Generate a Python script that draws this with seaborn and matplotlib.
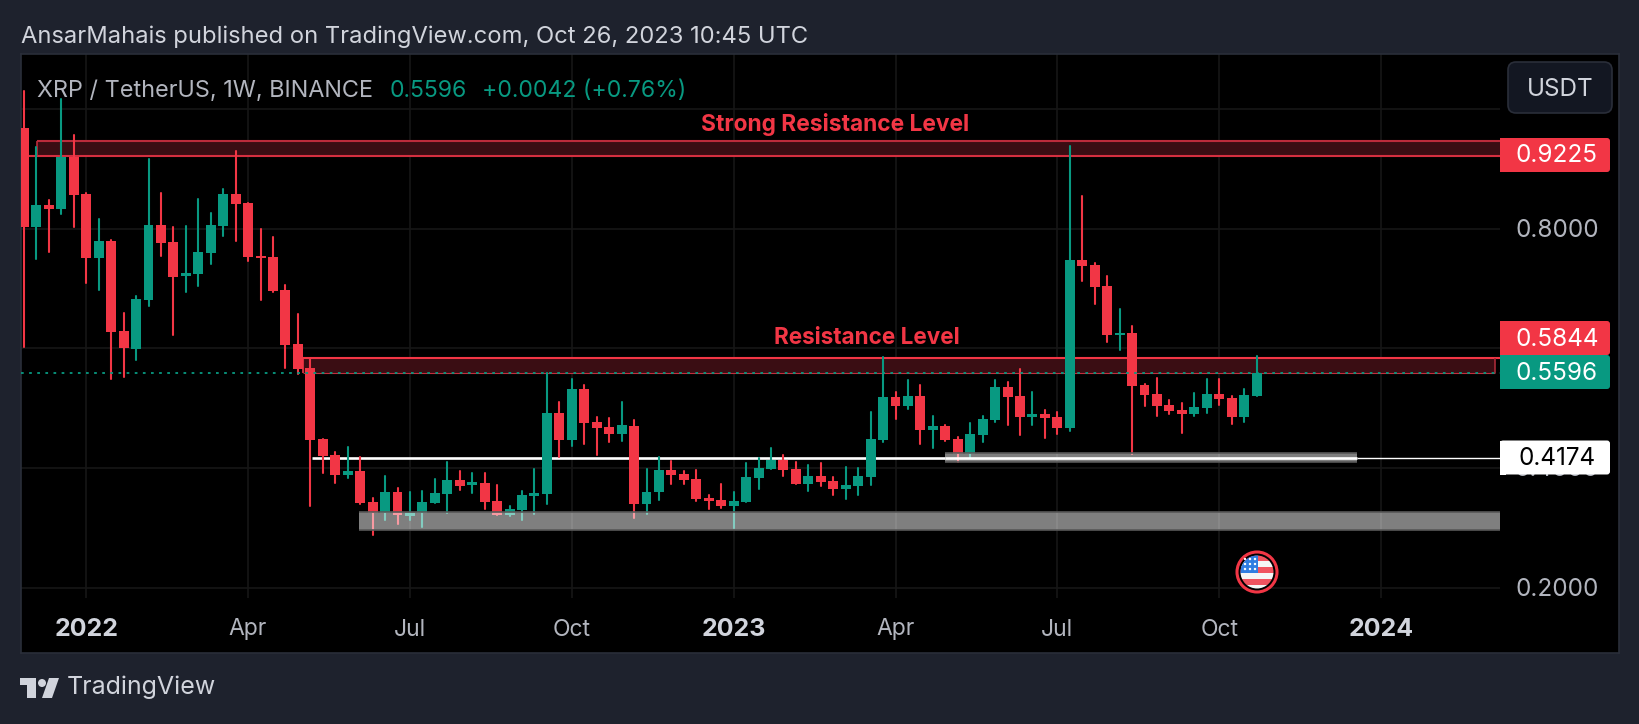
#!/usr/bin/env python3
# -*- coding: utf-8 -*-
import numpy as np
import pandas as pd
import matplotlib
matplotlib.use("Agg")
import matplotlib.pyplot as plt
import seaborn as sns
from matplotlib.patches import Circle, FancyBboxPatch, Polygon, Rectangle

# Weekly candles, XRP/USDT, first week = Nov 29 2021
opens = [
    .9680, .8036, .8398, .8337, .9201, .8577, .7518, .7791, .6291, .5996,
    .6815, .8064, .7774, .7217, .7250, .7601, .8053, .8577, .8426, .7540,
    .7523, .6971, .6068, .5667, .4480, .4212, .3889, .3945, .3426, .3242,
    .3593, .3203, .3247, .3420, .3570, .3799, .3721, .3743, .3442, .3219,
    .3303, .3537, .3570, .4914, .4473, .5315, .4763, .4680, .4574, .4696,
    .3403, .3604, .3966, .3894, .3810, .3498, .3459, .3370, .3437, .3838,
    .3983, .4128, .3977, .3732, .3866, .3777, .3654, .3704, .3855, .4468,
    .5181, .5037, .5204, .4641, .4697, .4485, .4234, .4557, .4797, .5354,
    .5204, .4858, .4903, .4847, .4674, .7478, .7395, .7043, .6230, .6257,
    .5388, .5232, .5053, .4970, .4903, .5003, .5237, .5170, .4853, .5204,
]
closes = [
    .8036, .8398, .8337, .9201, .8571, .7518, .7791, .6280, .6013, .6826,
    .8064, .7768, .7200, .7256, .7612, .8058, .8577, .8421, .7529, .7518,
    .6960, .6057, .5656, .4474, .4201, .3889, .3945, .3415, .3242, .3593,
    .3209, .3254, .3425, .3576, .3799, .3699, .3760, .3437, .3219, .3308,
    .3543, .3576, .4914, .4473, .5315, .4758, .4674, .4574, .4713, .3403,
    .3604, .3961, .3888, .3804, .3481, .3453, .3364, .3442, .3844, .3994,
    .4128, .3972, .3732, .3866, .3765, .3654, .3710, .3866, .4479, .5181,
    .5042, .5204, .4641, .4697, .4468, .4234, .4569, .4819, .5354, .5187,
    .4858, .4903, .4842, .4674, .7478, .7378, .7032, .6224, .6263, .5377,
    .5221, .5037, .4953, .4903, .5020, .5237, .5159, .4853, .5221, .5596,
]
highs = [
    1.0305, .9363, .8482, 1.0165, .9569, .8593, .8159, .7808, .6587, .6877,
    .9162, .8593, .8025, .8047, .8493, .8259, .8660, .9301, .8437, .7997,
    .7863, .7055, .6576, .5818, .4480, .4274, .4346, .4190, .3504, .3867,
    .3660, .3599, .3615, .3810, .4100, .3949, .3910, .3910, .3715, .3359,
    .3609, .3983, .5594, .5098, .5488, .5382, .4847, .4830, .5103, .4802,
    .3977, .4189, .4117, .3955, .3961, .3548, .3726, .3598, .4078, .4161,
    .4328, .4211, .4100, .4044, .4078, .3844, .4016, .4000, .4930, .5850,
    .5265, .5471, .5382, .4870, .4713, .4513, .4747, .4864, .5466, .5444,
    .5650, .5271, .4970, .4936, .9390, .8548, .7422, .7211, .6659, .6374,
    .5399, .5505, .5131, .5081, .5249, .5488, .5494, .5204, .5321, .5867,
]
lows = [
    .6018, .7495, .7618, .8253, .8036, .7100, .6977, .5494, .5528, .5812,
    .6715, .7551, .6230, .6949, .7049, .7417, .7886, .7796, .7467, .6815,
    .6949, .5678, .5572, .3371, .3922, .3755, .3839, .3404, .2886, .3137,
    .3070, .3137, .3019, .3420, .3253, .3637, .3587, .3314, .3219, .3203,
    .3124, .3225, .3403, .4178, .4373, .4401, .4223, .4440, .4457, .3169,
    .3225, .3464, .3732, .3738, .3448, .3314, .3336, .3002, .3437, .3648,
    .3977, .3866, .3726, .3615, .3699, .3548, .3487, .3548, .3715, .4440,
    .4819, .4992, .4407, .4340, .4457, .4106, .4167, .4440, .4769, .4719,
    .4552, .4719, .4502, .4569, .4624, .7127, .6742, .6107, .5973, .4234,
    .5037, .4870, .4903, .4585, .4870, .4920, .5048, .4736, .4769, .5204,
]

tick_weeks = [5, 18, 31, 44, 57, 70, 83, 96, 109]
tick_labels = ["2022", "Apr", "Jul", "Oct", "2023", "Apr", "Jul", "Oct", "2024"]
price_grid = [0.2, 0.4, 0.6, 0.8, 1.0]
# 0.6 and 1.0 are fully covered by the labels in the reference
price_ticks = [0.2, 0.4, 0.8]

strong_zone = (0.9225, 0.9473)
resistance_zone = (0.5596, 0.5844)
lower_band = (0.2963, 0.3264)
upper_band = (0.4106, 0.4246)
white_level = 0.4174
last_price = 0.5596

BG = "#1e222d"
BORDER = "#2a2e39"
RED = "#f23645"
GREEN = "#089981"
GRID = "#161616"
AXIS_TEXT = "#b2b5be"

sns.set_theme(style="dark")
plt.rcParams["font.family"] = ["Inter", "DejaVu Sans"]

df = pd.DataFrame({"week": np.arange(len(opens)), "open": opens, "close": closes,
                   "high": highs, "low": lows})
df["direction"] = np.where(df["close"] >= df["open"], "up", "down")
df["bottom"] = df[["open", "close"]].min(axis=1)
df["body"] = (df["open"] - df["close"]).abs()
palette = {"up": GREEN, "down": RED}

W, H = 1640, 724
fig = plt.figure(figsize=(W / 100, H / 100), dpi=100, facecolor=BG)

# Main panel, with the price scale inside it
L, T, R, B = 21, 54, 1619, 653
ax = fig.add_axes([L / W, 1 - B / H, (R - L) / W, (B - T) / H], facecolor="black")

# Wicks and bodies
wicks = df.melt(id_vars=["week", "direction"], value_vars=["high", "low"], value_name="price")
sns.lineplot(data=wicks, x="week", y="price", units="week", estimator=None, hue="direction",
             palette=palette, linewidth=1.5, legend=False, ax=ax, zorder=4)
for direction, sub in df.groupby("direction"):
    sns.barplot(data=sub, x="week", y="body", native_scale=True, color=palette[direction],
                saturation=1, width=0.8, linewidth=0, errorbar=None,
                bottom=sub["bottom"].to_numpy(), ax=ax, zorder=5)

x0 = (L - 24) / 12.45
x1 = (R - 24) / 12.45
x_scale_end = (1500 - 24) / 12.45
ax.set_xlim(x0, x1)
ax.set_ylim(0.0906, 1.0923)
ax.set_xticks([])
ax.set_yticks([])
ax.set_xlabel("")
ax.set_ylabel("")
ax.grid(False)
for spine in ax.spines.values():
    spine.set_color(BORDER)
    spine.set_linewidth(1.2)

# Grid stops short of the scales
ax.hlines(price_grid, x0, x_scale_end, color=GRID, lw=1.2, zorder=1)
ax.vlines(tick_weeks, 0.1826, 1.0923, color=GRID, lw=1.2, zorder=1)

# Drawings
ax.add_patch(Rectangle((1.02, strong_zone[0]), x_scale_end - 1.02, strong_zone[1] - strong_zone[0],
                       facecolor="#3a0d13", edgecolor="none", zorder=2))
ax.hlines(strong_zone[1], 1.02, x_scale_end, color="#bb2b3b", lw=1.5, zorder=3)
ax.hlines(strong_zone[0], 0.4, x_scale_end, color="#d42f40", lw=1.5, zorder=3)
ax.vlines(1.02, strong_zone[0], strong_zone[1], color="#bb2b3b", lw=1.2, zorder=3)

ax.add_patch(Rectangle((22.4, resistance_zone[0]), 118.15 - 22.4, resistance_zone[1] - resistance_zone[0],
                       facecolor="#3a0d13", edgecolor="none", zorder=2))
ax.hlines(resistance_zone[1], 22.4, x_scale_end, color=RED, lw=1.5, zorder=3)
ax.hlines(resistance_zone[0], 22.4, 118.15, color="#c42d3c", lw=0.8, zorder=3)
ax.vlines(118.15, resistance_zone[0], resistance_zone[1], color="#a82a38", lw=1.2, zorder=3)
ax.vlines(22.4, resistance_zone[0], resistance_zone[1], color=RED, lw=1.2, zorder=3)

ax.hlines(white_level, 23.1, 74.0, color="white", lw=1.9, zorder=3)
ax.hlines(white_level, 74.0, 107.07, color="white", lw=1.9, zorder=8)
ax.hlines(white_level, 107.07, x_scale_end, color="white", lw=1.0, zorder=3)
ax.hlines(last_price, x0, x_scale_end, color=GREEN, lw=1.3, linestyles=(0, (1.5, 3.0)), zorder=6)

for (lo, hi), left, right in [(lower_band, 26.9, x_scale_end), (upper_band, 74.0, 107.07)]:
    ax.add_patch(Rectangle((left, lo), right - left, hi - lo, facecolor="white", alpha=0.5,
                           edgecolor="none", zorder=7))
    ax.hlines([lo, hi], left, right, color="#585858", lw=1.2, zorder=7)

# Time scale
for week, label in zip(tick_weeks, tick_labels):
    is_year = label.isdigit()
    ax.text(week, (B - 629.5) / (B - T), label, transform=ax.get_xaxis_transform(),
            ha="center", va="center", fontsize=18 if is_year else 16.5,
            fontweight="bold" if is_year else "normal", color="#d1d4dc" if is_year else AXIS_TEXT,
            zorder=9)

# Pixel overlay for the page furniture
over = fig.add_axes([0, 0, 1, 1], facecolor="none")
over.set_xlim(0, W)
over.set_ylim(H, 0)
over.axis("off")


def y_px(value):
    return 587.6 - (value - 0.2) * 598


over.text(21, 36.5, "AnsarMahais published on TradingView.com, Oct 26, 2023 10:45 UTC",
          fontsize=17.1, color="#d1d4dc", va="center", ha="left")
over.text(37, 91, "XRP / TetherUS, 1W, BINANCE", fontsize=16.9, color=AXIS_TEXT, va="center")
over.text(390, 91, "0.5596", fontsize=16.6, color=GREEN, va="center")
over.text(482, 91, "+0.0042 (+0.76%)", fontsize=16.6, color=GREEN, va="center")
over.text(835, 124, "Strong Resistance Level", fontsize=16.4, fontweight="bold", color=RED,
          ha="center", va="center")
over.text(867, 338, "Resistance Level", fontsize=16.2, fontweight="bold", color=RED,
          ha="center", va="center")

# Currency button
over.add_patch(FancyBboxPatch((1508, 62), 104, 51, boxstyle="round,pad=0,rounding_size=8",
                              facecolor="#131722", edgecolor=BORDER, lw=1.2))
over.text(1560, 89, "USDT", fontsize=17.5, color="#d1d4dc", ha="center", va="center")

# Price scale
for price in price_ticks:
    over.text(1557, y_px(price) + 1.5, f"{price:.4f}", fontsize=17.5, color=AXIS_TEXT,
              ha="center", va="center", zorder=1)

for value, center, fill, ink in [(0.9225, 155, RED, "white"), (0.5844, 338, RED, "white"),
                                 (0.5596, 372, GREEN, "white"), (0.4174, 457.5, "white", "black")]:
    over.add_patch(FancyBboxPatch((1500, center - 17), 110, 34, boxstyle="round,pad=0,rounding_size=3",
                                  facecolor=fill, edgecolor="none", zorder=2))
    over.add_patch(Rectangle((1500, center - 17), 6, 34, facecolor=fill, edgecolor="none", zorder=2))
    over.text(1557, center + 1, f"{value:.4f}", fontsize=17.5, color=ink, ha="center", va="center", zorder=3)

# Event flag
ring = Circle((1257, 572), 20, facecolor="black", edgecolor=RED, lw=2.2, zorder=4)
over.add_patch(ring)
disc = Circle((1257, 572), 16.5, transform=over.transData)
for y, h, color in [(555, 6, "#f0535f"), (561, 6, "#f5f5f5"), (567, 6, "#f0535f"),
                    (573, 6, "#f5f5f5"), (579, 6, "#f0535f"), (585, 5, "#f5f5f5")]:
    patch = Rectangle((1240, y), 34, h, facecolor=color, edgecolor="none", zorder=5)
    over.add_patch(patch)
    patch.set_clip_path(disc)
canton = Rectangle((1240, 555), 18, 18, facecolor="#2f7de1", edgecolor="none", zorder=6)
over.add_patch(canton)
canton.set_clip_path(disc)
for dx in (1245, 1250, 1255):
    for dy in (559, 564, 569):
        over.add_patch(Circle((dx, dy), 1.2, facecolor="white", edgecolor="none", zorder=7))

# Footer logo
logo = "#d1d4dc"
over.add_patch(Polygon([(20, 678), (36, 678), (36, 698), (27, 698), (27, 685), (20, 685)],
                       facecolor=logo, edgecolor="none"))
over.add_patch(Circle((42, 683), 4, facecolor=logo, edgecolor="none"))
over.add_patch(Polygon([(49, 678), (59, 678), (52, 698), (42, 698)], facecolor=logo, edgecolor="none"))
over.text(67, 687.5, "TradingView", fontsize=18, color="#d1d4dc", va="center")

fig.savefig("out.png", dpi=100, facecolor=BG)
plt.close(fig)
